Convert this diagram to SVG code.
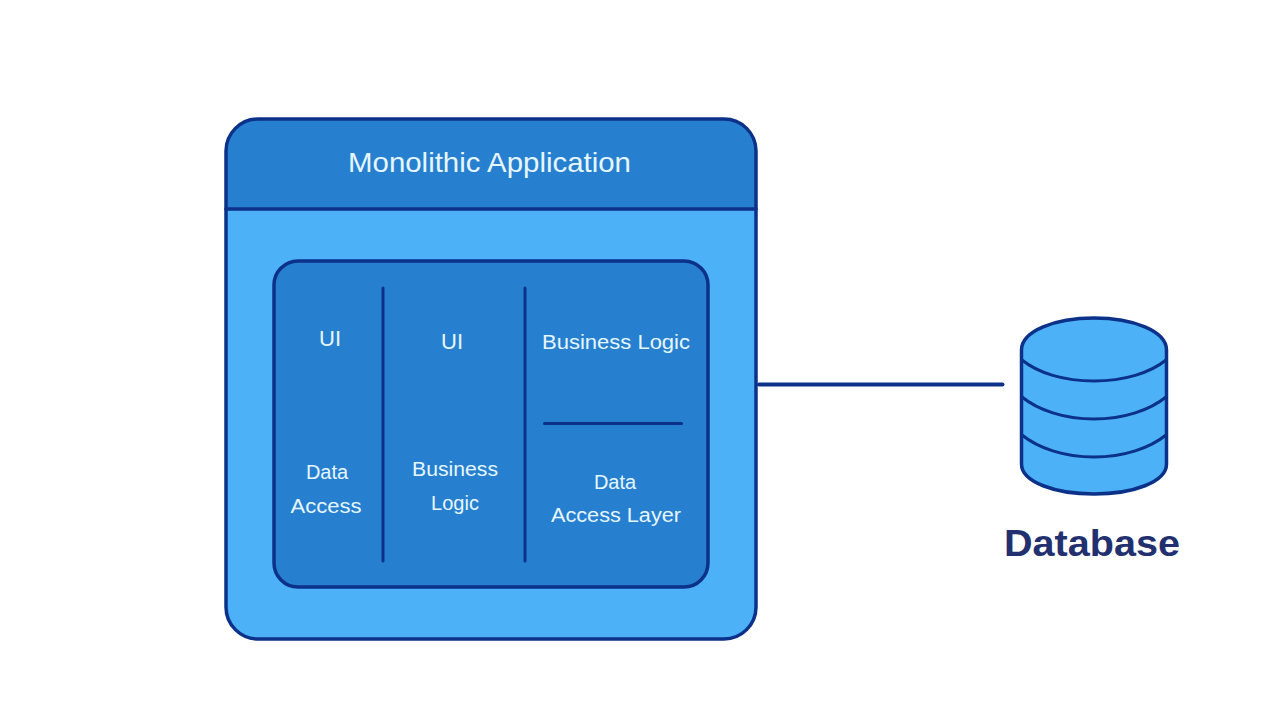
<svg xmlns="http://www.w3.org/2000/svg" width="1280" height="720" viewBox="0 0 1280 720">
<style>
.ln{fill:none;stroke:#0c3189;stroke-linecap:round}
.t{font-family:"Liberation Sans",Arial,sans-serif;fill:#e6f6ff;text-anchor:middle;font-size:20px}
</style>
<rect width="1280" height="720" fill="#ffffff"/>
<g id="monolith">
<path d="M258 119H724A32 32 0 0 1 756 151V607A32 32 0 0 1 724 639H258A32 32 0 0 1 226 607V151A32 32 0 0 1 258 119Z" fill="#4db1f8"/>
<path d="M258 119H724A32 32 0 0 1 756 151V209H226V151A32 32 0 0 1 258 119Z" fill="#2680cf"/>
<path d="M258 119H724A32 32 0 0 1 756 151V607A32 32 0 0 1 724 639H258A32 32 0 0 1 226 607V151A32 32 0 0 1 258 119Z" class="ln" stroke-width="3.5"/>
<path d="M226 209H756" class="ln" stroke-width="3.5"/>
<text class="t" x="489.500" y="172" style="font-size:28px" textLength="283" lengthAdjust="spacingAndGlyphs">Monolithic Application</text>
</g>
<g id="inner">
<rect x="274" y="261" width="434" height="326" rx="24" fill="#2680cf" stroke="#0c3189" stroke-width="3.5"/>
<path d="M383 288V561M525 288V561" class="ln" stroke-width="3"/>
<path d="M544.500 423.500H681.500" class="ln" stroke-width="3"/>
</g>
<g id="col1">
<text class="t" x="330" y="346" style="font-size:22px">UI</text>
<text class="t" x="327" y="479">Data</text>
<text class="t" x="326" y="513" textLength="71" lengthAdjust="spacingAndGlyphs">Access</text>
</g>
<g id="col2">
<text class="t" x="452" y="349" style="font-size:22px">UI</text>
<text class="t" x="455" y="476" textLength="86" lengthAdjust="spacingAndGlyphs">Business</text>
<text class="t" x="455" y="510">Logic</text>
</g>
<g id="col3">
<text class="t" x="616" y="349" textLength="148" lengthAdjust="spacingAndGlyphs">Business Logic</text>
<text class="t" x="615" y="489">Data</text>
<text class="t" x="616" y="522" textLength="130" lengthAdjust="spacingAndGlyphs">Access Layer</text>
</g>
<g id="connectors">
<path d="M759 384.500H1002.500" class="ln" stroke-width="4"/>
</g>
<g id="database">
<path d="M1021.500 350C1021.500 331 1055 318 1094 318C1133 318 1166.500 331 1166.500 350V464C1166.500 482 1133 494 1094 494C1055 494 1021.500 482 1021.500 464Z" fill="#4db1f8" stroke="#0c3189" stroke-width="3.500" stroke-linejoin="round"/>
<path id="band1" d="M1022 360C1038 373 1064 381 1094 381C1124 381 1150 373 1166 360" class="ln" stroke-width="3"/>
<path id="band2" d="M1022 397C1038 410 1064 419 1094 419C1124 419 1150 410 1166 397" class="ln" stroke-width="3"/>
<path id="band3" d="M1022 435C1038 448 1064 457 1094 457C1124 457 1150 448 1166 435" class="ln" stroke-width="3"/>
<text x="1092" y="556" font-family="Liberation Sans, Arial, sans-serif" font-weight="700" font-size="37" fill="#23306f" text-anchor="middle" textLength="176" lengthAdjust="spacingAndGlyphs">Database</text>
</g>
</svg>
